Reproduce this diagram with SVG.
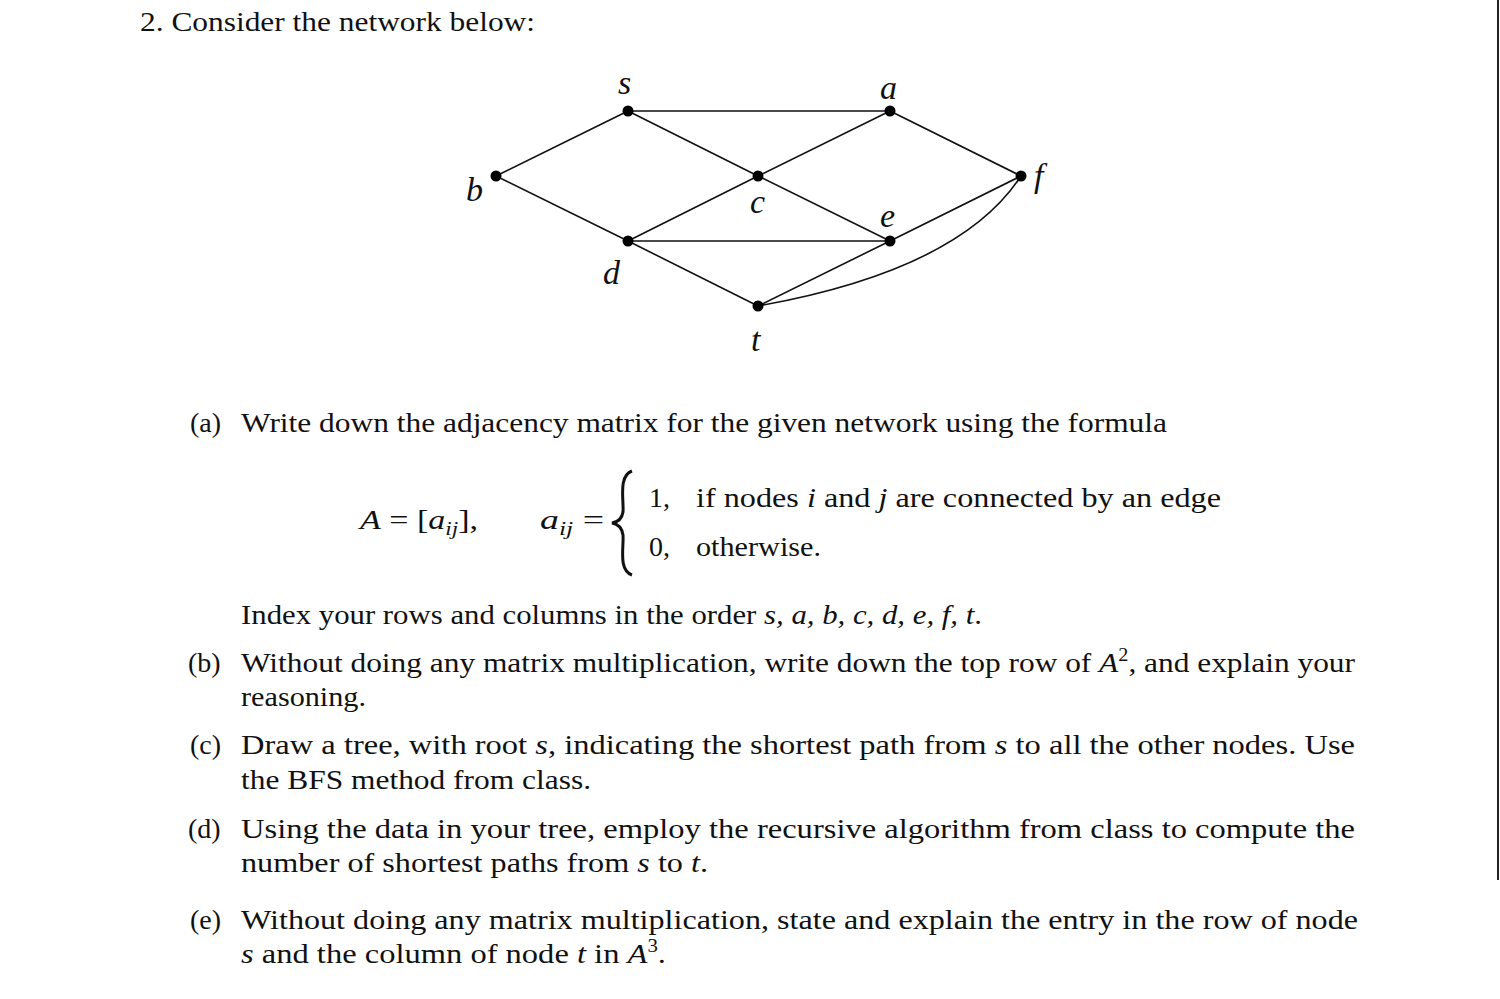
<svg xmlns="http://www.w3.org/2000/svg" width="1500" height="999" viewBox="0 0 1500 999">
<style>
text{font-family:"Liberation Serif","DejaVu Serif",serif;font-size:28px;fill:#111}
.m{font-style:italic;font-size:34px}
.e{stroke:#111;stroke-width:1.6;fill:none}
.n{fill:#000}
</style>
<rect width="1500" height="999" fill="#fff"/>
<line x1="1498" y1="0" x2="1498" y2="880" stroke="#222" stroke-width="2"/>
<text x="140" y="31" textLength="395" lengthAdjust="spacingAndGlyphs">2. Consider the network below:</text>
<g id="edges">
<path class="e" d="M628 111H890M628 111L496 176M628 111L758 176M890 111L758 176M890 111L1021 176M496 176L628 241M758 176L628 241M758 176L890 241M628 241H890M628 241L758 306M890 241L758 306M890 241L1021 176M758 306Q960 270 1021 176"/>
</g>
<g id="s"><circle class="n" cx="628" cy="111" r="5.5"/><text class="m" x="618" y="94">s</text></g>
<g id="a"><circle class="n" cx="890" cy="111" r="5.5"/><text class="m" x="880" y="99">a</text></g>
<g id="b"><circle class="n" cx="496" cy="176" r="5.5"/><text class="m" x="466" y="201">b</text></g>
<g id="c"><circle class="n" cx="758" cy="176" r="5.5"/><text class="m" x="750" y="213">c</text></g>
<g id="f"><circle class="n" cx="1021" cy="176" r="5.5"/><text class="m" x="1034" y="187">f</text></g>
<g id="d"><circle class="n" cx="628" cy="241" r="5.5"/><text class="m" x="603" y="284">d</text></g>
<g id="e"><circle class="n" cx="890" cy="241" r="5.5"/><text class="m" x="880" y="227">e</text></g>
<g id="t"><circle class="n" cx="758" cy="306" r="5.5"/><text class="m" x="751" y="351">t</text></g>
<text x="190" y="432">(a)</text>
<text x="241" y="432" textLength="926" lengthAdjust="spacingAndGlyphs">Write down the adjacency matrix for the given network using the formula</text>
<text x="360" y="529" textLength="118" lengthAdjust="spacingAndGlyphs"><tspan font-style="italic">A</tspan> = [<tspan font-style="italic">a</tspan><tspan font-style="italic" font-size="19" dy="6">ij</tspan><tspan dy="-6">],</tspan></text>
<text x="540" y="529" textLength="64" lengthAdjust="spacingAndGlyphs"><tspan font-style="italic">a</tspan><tspan font-style="italic" font-size="19" dy="6">ij</tspan><tspan dy="-6"> =</tspan></text>
<path d="M632 471C618 476 624 500 623 512C622 519 618 522 612 523C618 524 622 528 623 535C624 547 618 570 632 575" fill="none" stroke="#111" stroke-width="3"/>
<text x="649" y="507">1,</text>
<text x="696" y="507" textLength="525" lengthAdjust="spacingAndGlyphs">if nodes <tspan font-style="italic">i</tspan> and <tspan font-style="italic">j</tspan> are connected by an edge</text>
<text x="649" y="556">0,</text>
<text x="696" y="556" textLength="125" lengthAdjust="spacingAndGlyphs">otherwise.</text>
<text x="241" y="624" textLength="741" lengthAdjust="spacingAndGlyphs">Index your rows and columns in the order <tspan font-style="italic">s, a, b, c, d, e, f, t</tspan>.</text>
<text x="188" y="672">(b)</text>
<text x="241" y="672" textLength="1114" lengthAdjust="spacingAndGlyphs">Without doing any matrix multiplication, write down the top row of <tspan font-style="italic">A</tspan><tspan font-size="18" dy="-11">2</tspan><tspan dy="11">, and explain your</tspan></text>
<text x="241" y="706" textLength="125" lengthAdjust="spacingAndGlyphs">reasoning.</text>
<text x="190" y="754">(c)</text>
<text x="241" y="754" textLength="1114" lengthAdjust="spacingAndGlyphs">Draw a tree, with root <tspan font-style="italic">s</tspan>, indicating the shortest path from <tspan font-style="italic">s</tspan> to all the other nodes. Use</text>
<text x="241" y="789" textLength="350" lengthAdjust="spacingAndGlyphs">the BFS method from class.</text>
<text x="188" y="838">(d)</text>
<text x="241" y="838" textLength="1114" lengthAdjust="spacingAndGlyphs">Using the data in your tree, employ the recursive algorithm from class to compute the</text>
<text x="241" y="872" textLength="467" lengthAdjust="spacingAndGlyphs">number of shortest paths from <tspan font-style="italic">s</tspan> to <tspan font-style="italic">t</tspan>.</text>
<text x="190" y="929">(e)</text>
<text x="241" y="929" textLength="1117" lengthAdjust="spacingAndGlyphs">Without doing any matrix multiplication, state and explain the entry in the row of node</text>
<text x="241" y="963" textLength="425" lengthAdjust="spacingAndGlyphs"><tspan font-style="italic">s</tspan> and the column of node <tspan font-style="italic">t</tspan> in <tspan font-style="italic">A</tspan><tspan font-size="18" dy="-11">3</tspan><tspan dy="11">.</tspan></text>
</svg>
